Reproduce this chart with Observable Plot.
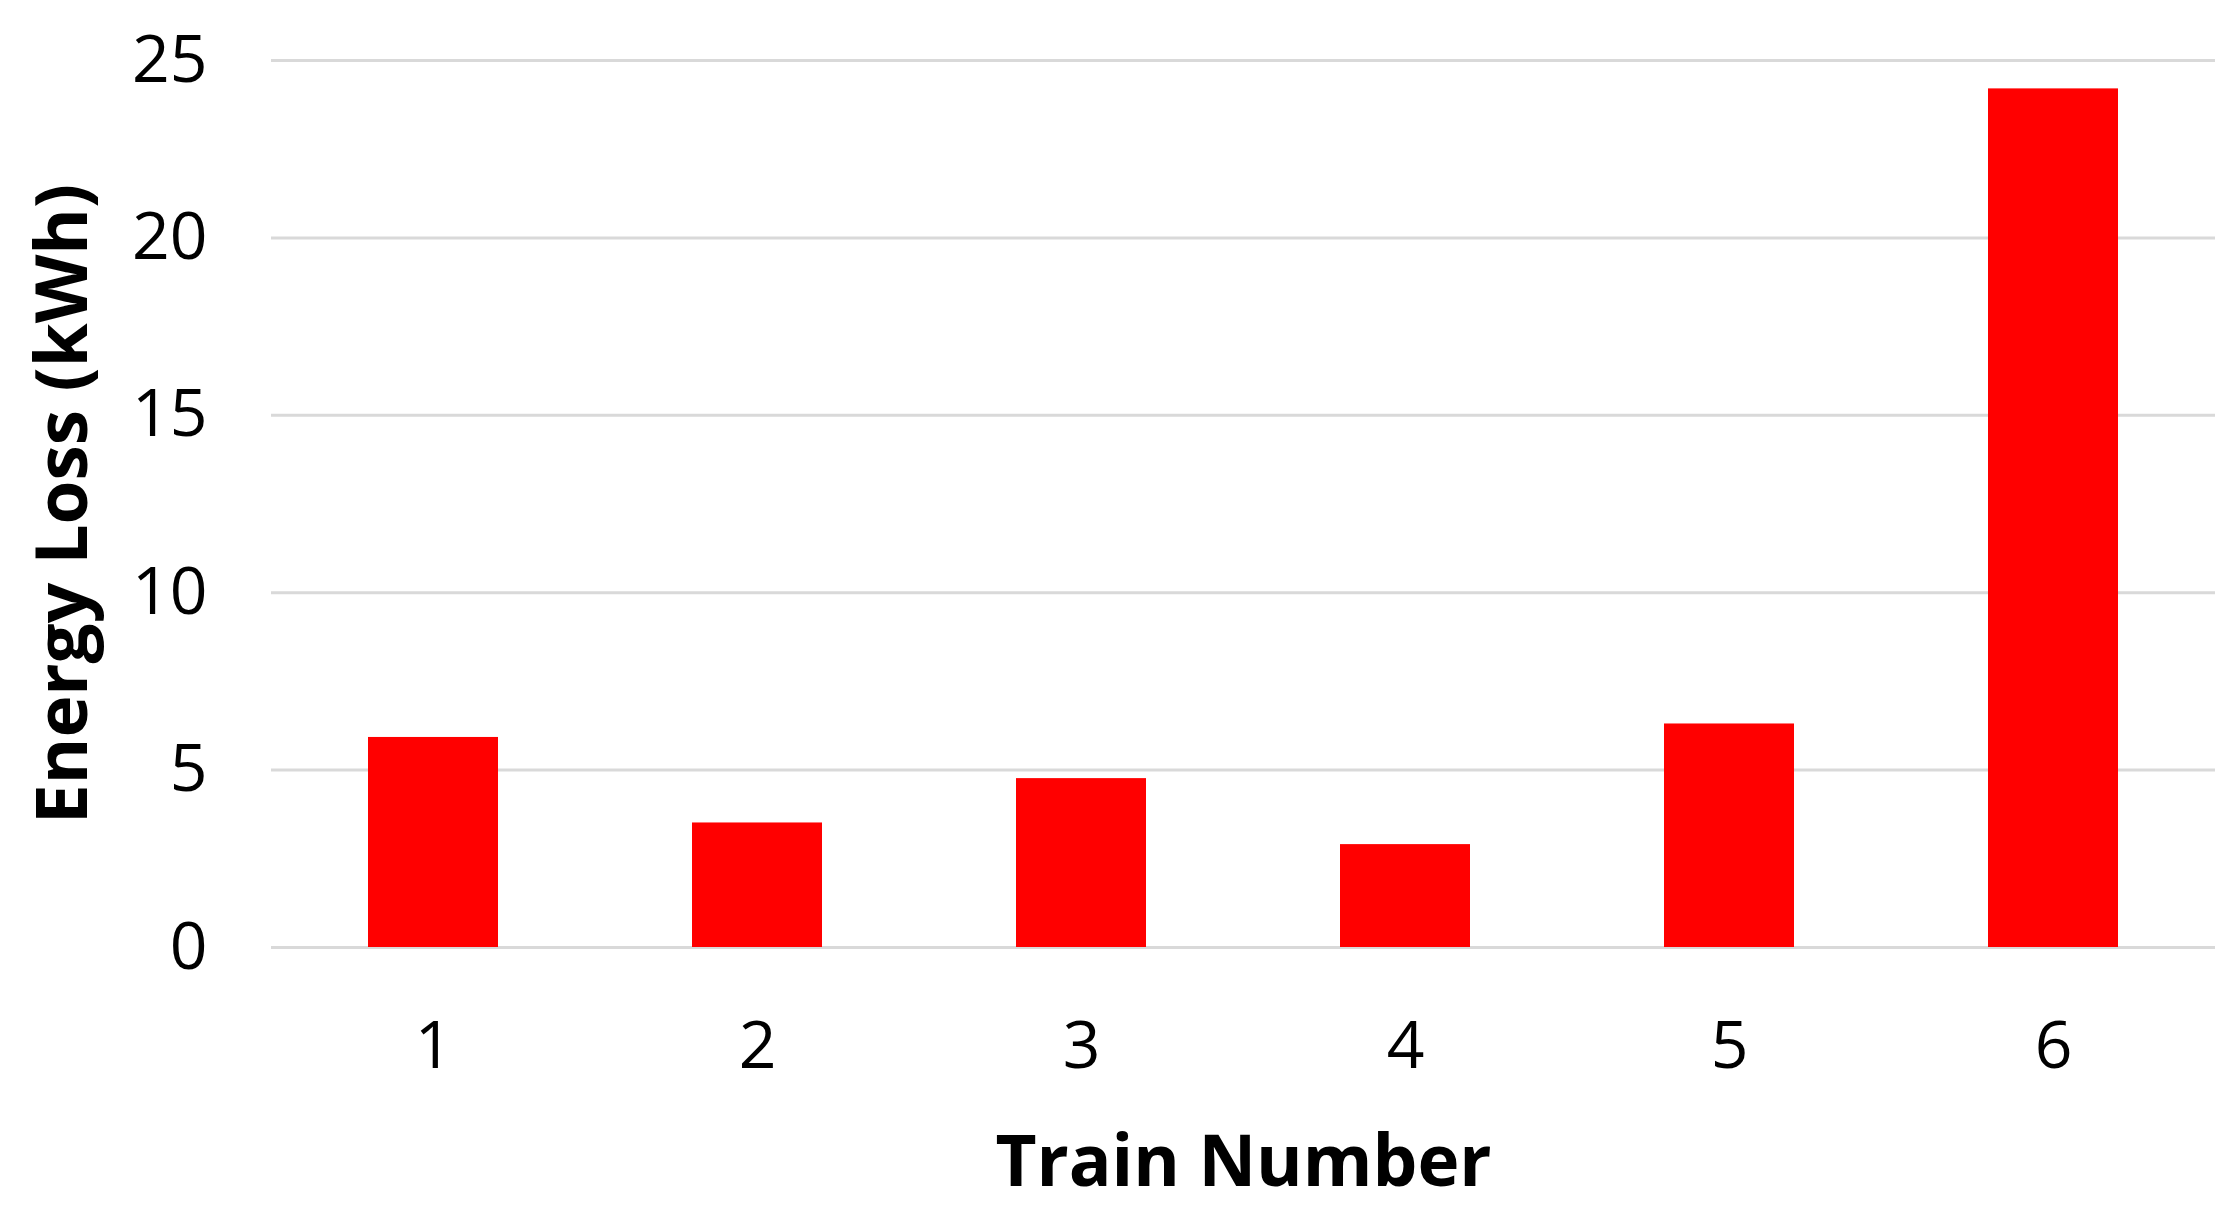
<!DOCTYPE html>
<html>
<head>
<meta charset="utf-8">
<script src="https://cdn.jsdelivr.net/npm/d3@7"></script>
<script src="https://cdn.jsdelivr.net/npm/@observablehq/plot@0.6"></script>
<style>
  html, body { margin: 0; padding: 0; background: #fff; }
  #chart { width: 2239px; height: 1226px; }
</style>
</head>
<body>
<div id="chart"></div>
<script>
const trains = ["1", "2", "3", "4", "5", "6"];
const energyLoss = [5.92, 3.51, 4.76, 2.90, 6.30, 24.2];
const yTicks = [0, 5, 10, 15, 20, 25];
const xTitle = "Train Number";
const yTitle = "Energy Loss (kWh)";

const data = trains.map((t, i) => ({train: t, value: energyLoss[i]}));

const chart = Plot.plot({
  width: 2239,
  height: 1226,
  marginTop: 60,
  marginBottom: 279,
  marginLeft: 271,
  marginRight: 24,
  style: {fontFamily: "'Open Sans', sans-serif", fontSize: "66px", color: "#000", background: "#fff"},
  x: {domain: trains, paddingInner: 0.6, paddingOuter: 0.3},
  y: {domain: [0, 25]},
  marks: [
    Plot.ruleY(yTicks, {stroke: "#d9d9d9", strokeWidth: 3}),
    Plot.barY(data, {x: "train", y: "value", fill: "#ff0000"}),
    Plot.axisY({ticks: yTicks, tickSize: 0, tickPadding: 64, label: null, fontSize: 66}),
    Plot.axisX({tickSize: 0, tickPadding: 74, label: null, fontSize: 66}),
    Plot.text([xTitle], {frameAnchor: "bottom", dy: 238, fontSize: 71, fontWeight: "bold", fill: "#000"}),
    Plot.text([yTitle], {frameAnchor: "left", textAnchor: "middle", dx: -207, rotate: -90, fontSize: 71, fontWeight: "bold", fill: "#000"})
  ]
});
document.getElementById("chart").appendChild(chart);
</script>
</body>
</html>
